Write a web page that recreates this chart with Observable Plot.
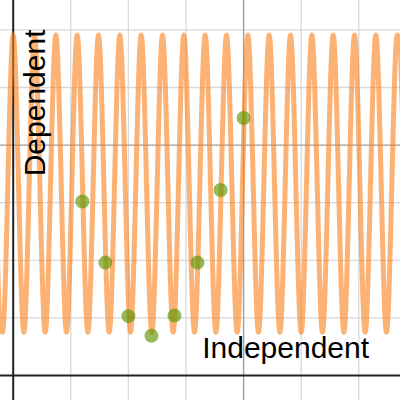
<!DOCTYPE html>
<html>
<head>
<meta charset="utf-8">
<script src="https://cdn.jsdelivr.net/npm/d3@7"></script>
<script src="https://cdn.jsdelivr.net/npm/@observablehq/plot@0.6"></script>
<style>
  html, body { margin: 0; padding: 0; background: #fff; }
  #chart { width: 400px; height: 400px; overflow: hidden; }
</style>
</head>
<body>
<div id="chart"></div>
<script>
// Curve extrema (alternating peaks and troughs)
const curveX = [-0.370, -0.185, 0.000, 0.185, 0.370, 0.556, 0.741, 0.926, 1.111, 1.296,
                1.481, 1.667, 1.852, 2.037, 2.222, 2.407, 2.593, 2.778, 2.963, 3.148,
                3.333, 3.519, 3.704, 3.889, 4.074, 4.259, 4.444, 4.630, 4.815, 5.000,
                5.185, 5.370, 5.556, 5.741, 5.926, 6.111, 6.296, 6.481, 6.667, 6.852];
const curveY = [5.91, 0.75, 5.91, 0.75, 5.91, 0.75, 5.91, 0.75, 5.91, 0.75,
                5.91, 0.75, 5.91, 0.75, 5.91, 0.75, 5.91, 0.75, 5.91, 0.75,
                5.91, 0.75, 5.91, 0.75, 5.91, 0.75, 5.91, 0.75, 5.91, 0.75,
                5.91, 0.75, 5.91, 0.75, 5.91, 0.75, 5.91, 0.75, 5.91, 0.75];

// Scatter points
const pointX = [1.2, 1.6, 2.0, 2.4, 2.8, 3.2, 3.6, 4.0];
const pointY = [3.02, 1.96, 1.03, 0.69, 1.04, 1.96, 3.22, 4.47];

// Grid lines
const minorGrid = [1, 2, 3, 5, 6];
const majorGrid = [4];
const axisLine = [0];

const xLabel = "Independent";
const yLabel = "Dependent";

const curve = curveX.map((x, i) => ({x, y: curveY[i]}));
const points = pointX.map((x, i) => ({x, y: pointY[i]}));

const W = 400, H = 400;
const chart = Plot.plot({
  width: W,
  height: H,
  margin: 0,
  style: {background: "#fff"},
  x: {domain: [-0.2205, 6.724], axis: null},
  y: {domain: [-0.434, 6.51], axis: null},
  marks: [
    Plot.ruleX(minorGrid, {stroke: "#d9d9d9", strokeWidth: 1.3}),
    Plot.ruleY(minorGrid, {stroke: "#d9d9d9", strokeWidth: 1.3}),
    Plot.ruleX(majorGrid, {stroke: "#9e9e9e", strokeWidth: 1.4}),
    Plot.ruleY(majorGrid, {stroke: "#9e9e9e", strokeWidth: 1.4}),
    Plot.ruleX(axisLine, {stroke: "#222", strokeWidth: 2}),
    Plot.ruleY(axisLine, {stroke: "#222", strokeWidth: 2}),
    Plot.line(curve, {x: "x", y: "y", curve: "monotone-x", stroke: "#fa7e19", strokeOpacity: 0.6, strokeWidth: 5}),
    Plot.dot(points, {x: "x", y: "y", r: 7, fill: "#5e9400", fillOpacity: 0.65, stroke: "none"})
  ]
});
document.getElementById("chart").appendChild(chart);

const svg = d3.select(chart);
svg.append("text")
  .attr("x", 202.2).attr("y", 358.3)
  .attr("text-anchor", "start")
  .attr("font-family", "'Liberation Sans', Arial, sans-serif")
  .attr("font-size", 30)
  .attr("fill", "#000")
  .text(xLabel);
svg.append("text")
  .attr("transform", "translate(44.5,176.3) rotate(-90)")
  .attr("text-anchor", "start")
  .attr("font-family", "'Liberation Sans', Arial, sans-serif")
  .attr("font-size", 30)
  .attr("fill", "#000")
  .text(yLabel);
</script>
</body>
</html>
